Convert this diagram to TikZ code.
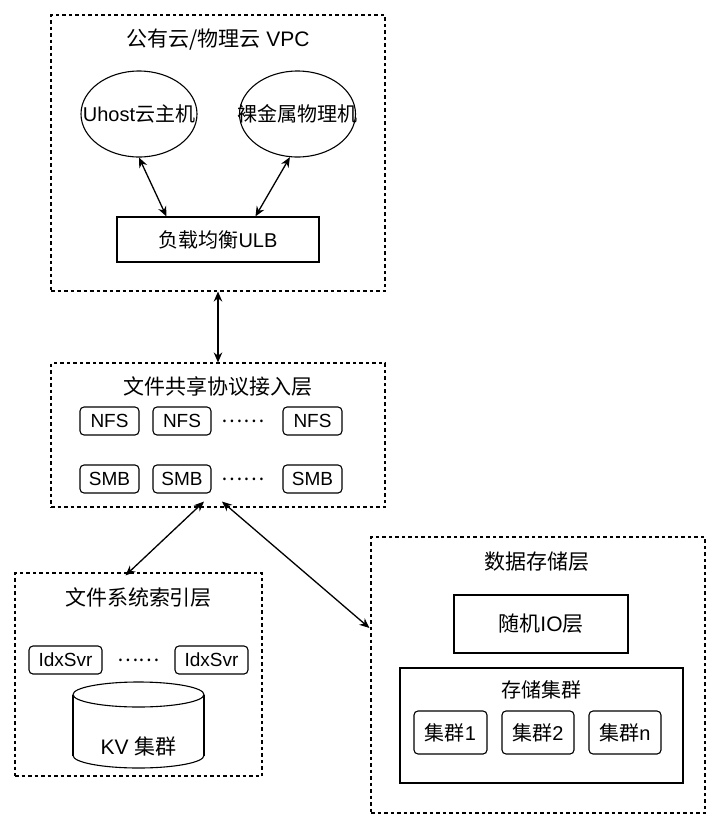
\documentclass[tikz,border=0pt]{standalone}
\usepackage{fontspec}
\setmainfont{Liberation Sans}
\newfontfamily\cjk{Noto Sans CJK SC}
\usetikzlibrary{shapes.geometric,arrows.meta}
\newcommand{\zh}[1]{{\cjk #1}}
\begin{document}
\begin{tikzpicture}[x=1pt,y=-1pt,
  dbox/.style={draw, line width=1.1pt, dash pattern=on 3.5pt off 3pt, inner sep=0pt},
  sbox/.style={draw, line width=1.1pt, inner sep=0pt, font=\fontsize{20}{22}\selectfont},
  rbox/.style={draw, line width=1.1pt, rounded corners=4pt, inner sep=0pt, minimum height=28, font=\fontsize{19}{21}\selectfont},
  ell/.style={draw, ellipse, line width=1.1pt, inner sep=0pt, minimum width=116, minimum height=86},
  ttl/.style={inner sep=0pt, font=\fontsize{21}{24}\selectfont},
  lbl/.style={inner sep=0pt, font=\fontsize{20}{22}\selectfont},
  conn/.style={line width=1.3pt, {Stealth[length=10pt,width=8.5pt]}-{Stealth[length=10pt,width=8.5pt]}}
]
\useasboundingbox[fill=white] (0,0) rectangle (720,828);

% VPC layer
\node[dbox, minimum width=334, minimum height=276] (vpc) at (218,153) {};
\node[ttl] (vpct) at (218,40) {\zh{公有云/物理云} VPC};
\node[ell] (e1) at (139,114) {};
\node[lbl] (e1t) at (139,114) {Uhost\zh{云主机}};
\node[ell] (e2) at (297.5,114) {};
\node[lbl] (e2t) at (297.5,114) {\zh{裸金属物理机}};
\node[sbox, minimum width=202, minimum height=45] (ulb) at (218,239.5) {\zh{负载均衡}ULB};
\draw[conn] (e1.south) -- ([xshift=50]ulb.north west);
\draw[conn] (e2.-100) -- ([xshift=139]ulb.north west);

% protocol layer
\node[dbox, minimum width=334, minimum height=144] (proto) at (218,435) {};
\node[ttl] (protot) at (218,387) {\zh{文件共享协议接入层}};
\node[rbox, minimum width=59] (n1) at (109.5,421) {NFS};
\node[rbox, minimum width=58] (n2) at (182,421) {NFS};
\node[lbl] (nd) at (243,421) {\zh{……}};
\node[rbox, minimum width=59] (n3) at (312.5,421) {NFS};
\node[rbox, minimum width=59] (s1) at (109.5,479) {SMB};
\node[rbox, minimum width=58] (s2) at (182,479) {SMB};
\node[lbl] (sd) at (243,479) {\zh{……}};
\node[rbox, minimum width=59] (s3) at (312.5,479) {SMB};
\draw[conn] (vpc.south) -- (proto.north);

% index layer
\node[dbox, minimum width=247, minimum height=203] (idx) at (138.5,674.5) {};
\node[ttl] (idxt) at (138.5,598) {\zh{文件系统索引层}};
\node[rbox, minimum width=73] (i1) at (65.5,660) {IdxSvr};
\node[lbl] (id) at (138.5,660) {\zh{……}};
\node[rbox, minimum width=73] (i2) at (211.5,660) {IdxSvr};
\fill[white] (138.5,755.5) ellipse (65.5 and 12.5);
\draw[line width=1.1pt] (138.5,755.5) ellipse (65.5 and 12.5);
\fill[white] (73,694.5) rectangle (204,755.5);
\draw[line width=1.1pt] (73,694.5) -- (73,755.5) (204,694.5) -- (204,755.5);
\draw[line width=1.1pt, fill=white] (138.5,694.5) ellipse (65.5 and 12.5);
\node[inner sep=0pt, font=\fontsize{21}{24}\selectfont] (kv) at (138.5,746) {KV \zh{集群}};

% data layer
\node[dbox, minimum width=334, minimum height=276] (data) at (538,675) {};
\node[ttl] (datat) at (537,562) {\zh{数据存储层}};
\node[sbox, minimum width=174, minimum height=58, font=\fontsize{21}{24}\selectfont] (rio) at (541,624) {\zh{随机}IO\zh{层}};
\node[sbox, minimum width=283, minimum height=115] (sc) at (541.5,725.5) {};
\node[lbl] (sct) at (541,690) {\zh{存储集群}};
\node[rbox, minimum width=73, minimum height=43, font=\fontsize{20}{22}\selectfont] (c1) at (450.5,732.5) {\zh{集群}1};
\node[rbox, minimum width=72, minimum height=43, font=\fontsize{20}{22}\selectfont] (c2) at (538,732.5) {\zh{集群}2};
\node[rbox, minimum width=72, minimum height=43, font=\fontsize{20}{22}\selectfont] (cn) at (625,732.5) {\zh{集群}n};

\draw[conn] ([xshift=-14,yshift=6]proto.south) -- ([xshift=-13,yshift=-3]idx.north);
\draw[conn] ([xshift=4,yshift=6]proto.south) -- ([xshift=-1,yshift=47]data.west);
\end{tikzpicture}
\end{document}
